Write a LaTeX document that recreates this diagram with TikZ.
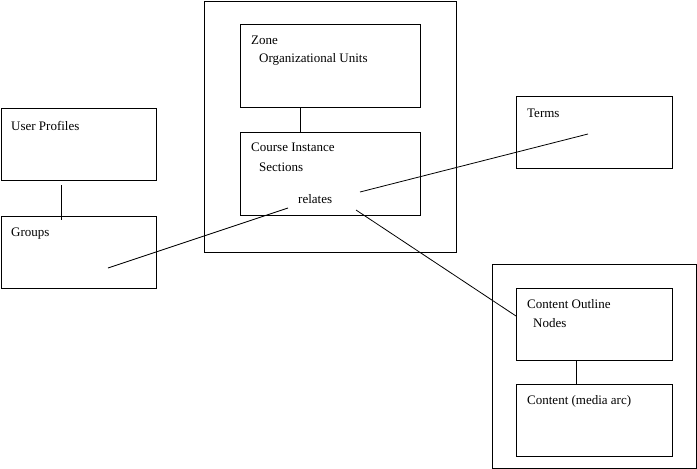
\documentclass[tikz,border=0pt]{standalone}
\usepackage{fontspec}
\setmainfont{Liberation Serif}
\begin{document}
\begin{tikzpicture}[x=1pt,y=-1pt,
  box/.style={draw,line width=0.8pt},
  lbl/.style={anchor=west,inner sep=0pt,font=\fontsize{13}{15}\selectfont},
  con/.style={line width=0.8pt}]
\useasboundingbox (0,0) rectangle (697,469);
\draw[box] (204,1) rectangle (456,252);
\draw[box] (492,264) rectangle (696,468);
\draw[box] (240,24) rectangle (420,107);
\draw[box] (240,132) rectangle (420,215);
\draw[box] (1,108) rectangle (156,180);
\draw[box] (1,216) rectangle (156,288);
\draw[box] (516,96) rectangle (672,168);
\draw[box] (516,288) rectangle (672,360);
\draw[box] (516,384) rectangle (672,456);
\coordinate (z1) at (300,107); \coordinate (z2) at (300,132);
\coordinate (u1) at (61,185); \coordinate (u2) at (61,220);
\coordinate (c1) at (576,360); \coordinate (c2) at (576,384);
\coordinate (g) at (108,268); \coordinate (r1) at (288,208);
\coordinate (r2) at (360,192); \coordinate (t) at (588,134);
\coordinate (r3) at (356,210); \coordinate (o) at (516,316);
\draw[con] (z1)--(z2); \draw[con] (u1)--(u2); \draw[con] (c1)--(c2);
\draw[con] (g)--(r1); \draw[con] (r2)--(t); \draw[con] (r3)--(o);
\node[lbl] (a) at (251,40) {Zone};
\node[lbl] (b) at (259,59) {Organizational Units};
\node[lbl] (c) at (251,147) {Course Instance};
\node[lbl] (d) at (259,167) {Sections};
\node[lbl] (e) at (298,199) {relates};
\node[lbl] (f) at (11,126) {User Profiles};
\node[lbl] (h) at (11,234) {Groups};
\node[lbl] (i) at (527,113) {Terms};
\node[lbl] (j) at (527,304) {Content Outline};
\node[lbl] (k) at (533,323) {Nodes};
\node[lbl] (l) at (527,401) {Content (media arc)};
\end{tikzpicture}
\end{document}
